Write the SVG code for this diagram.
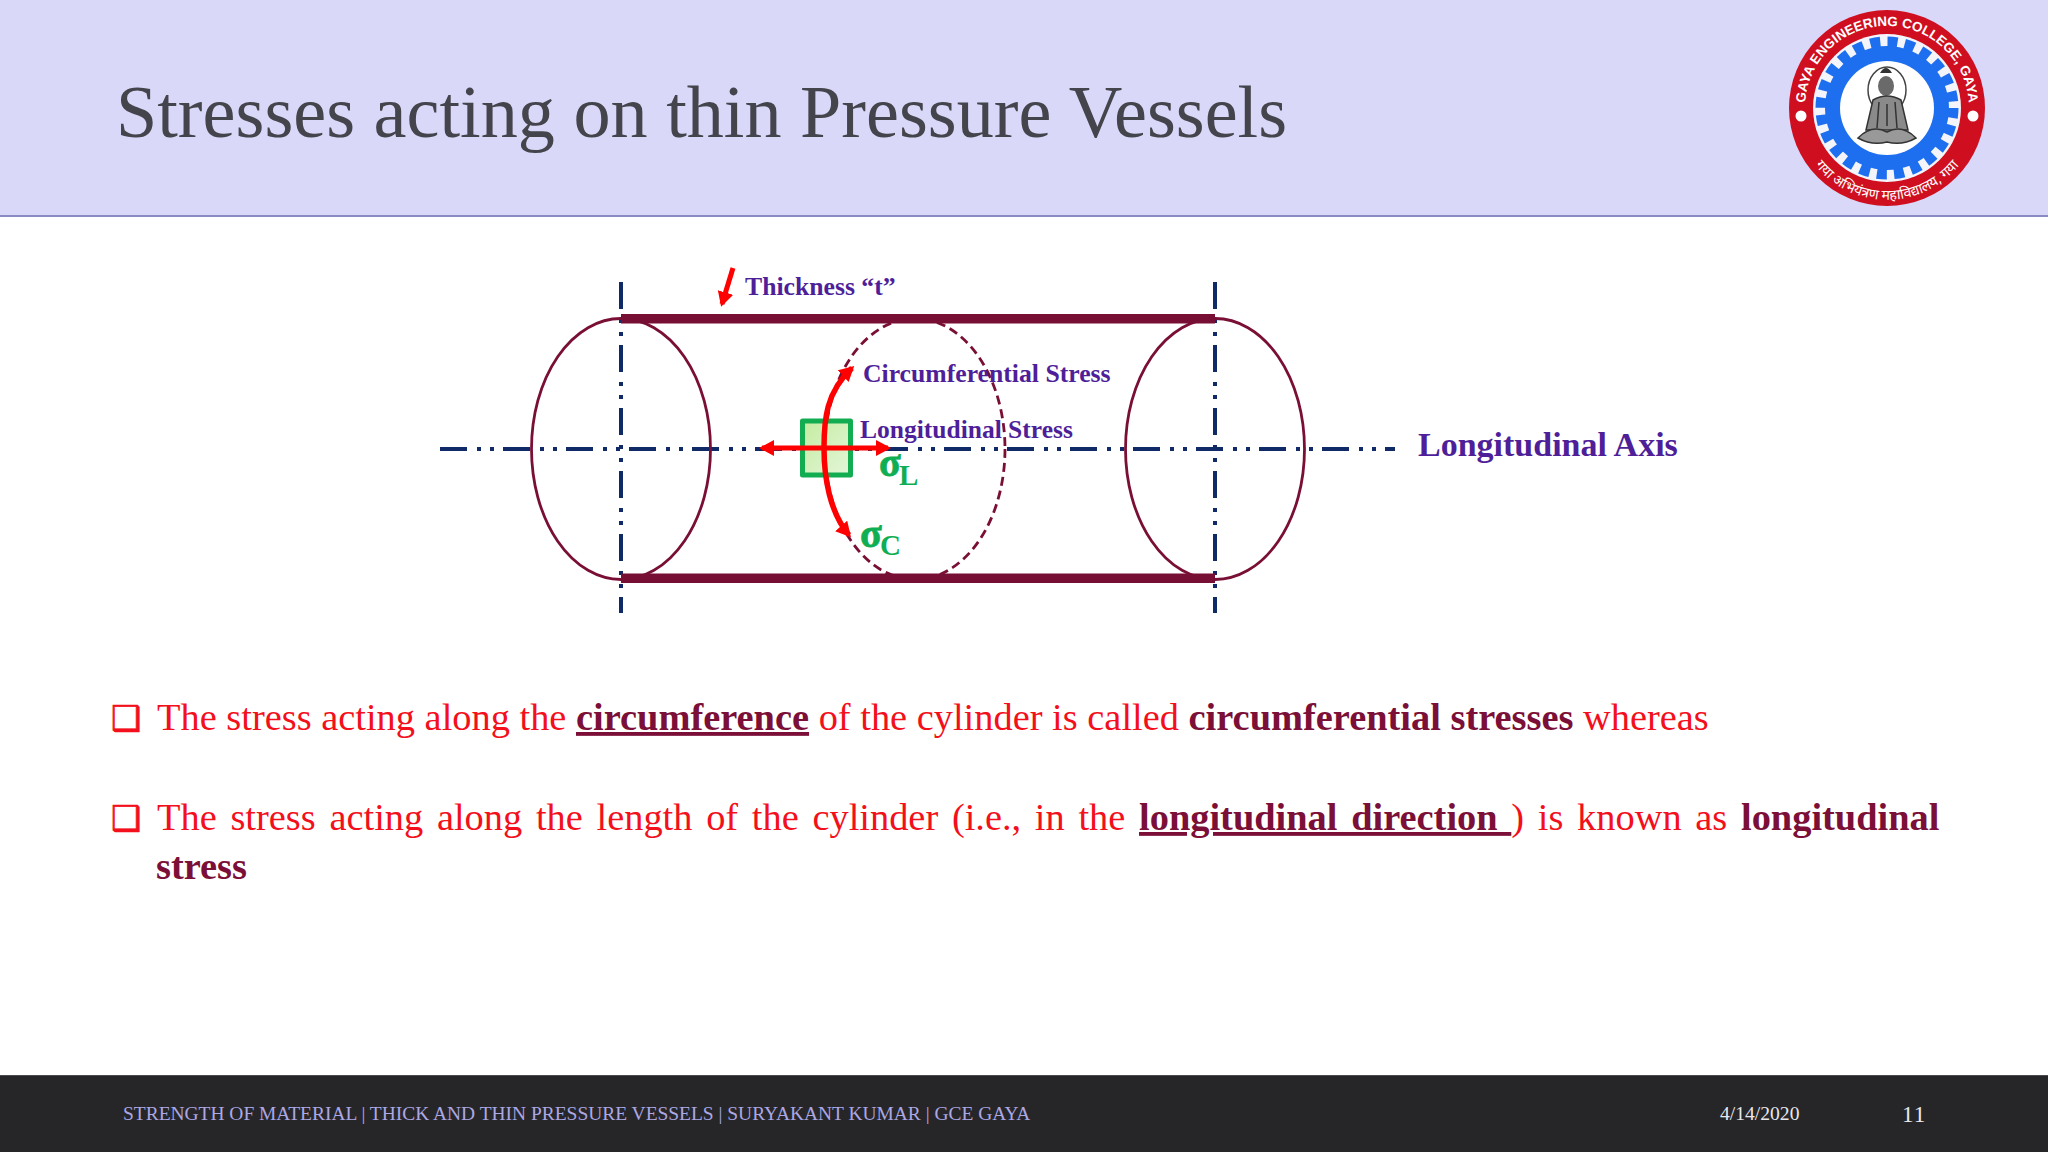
<svg xmlns="http://www.w3.org/2000/svg" xmlns:xlink="http://www.w3.org/1999/xlink" width="2048" height="1152" viewBox="0 0 2048 1152">
<defs>
<style>
text{font-family:"Liberation Serif","Noto Sans CJK SC",serif}
.ax{stroke:#0f2a66;stroke-width:4;fill:none;stroke-dasharray:27 10 4 9 4 9}
.vs{stroke:#7a0f36;stroke-width:2.8;fill:none}
.bar{fill:#760f33}
.pur{fill:#4e1f99;font-weight:bold}
.grn{fill:#0fae52;font-weight:bold}
.sig{font-size:40px;stroke:#0fae52;stroke-width:.8}
.sub{font-size:29px}
.body{font-size:38.400px;fill:#f30f1b}
.b{font-weight:bold;fill:#7b0f37}
.u{text-decoration:underline}
.foot{font-size:19.450px;fill:#aca8e4}
.foot2{font-size:19.600px;fill:#e8e8ee}
.red{stroke:#ff0000;fill:none}
.bul{font-family:"DejaVu Sans",sans-serif;font-size:34px;fill:#f30f1b;stroke:#f30f1b;stroke-width:.7}
</style>
<linearGradient id="gfill" x1="0" y1="0" x2="1" y2="1"><stop offset="0" stop-color="#c4eca0"/><stop offset="1" stop-color="#e4f6da"/></linearGradient>
<marker id="ah" markerWidth="18" markerHeight="18" refX="12" refY="8" orient="auto-start-reverse" markerUnits="userSpaceOnUse"><path d="M0 0L15 8L0 16Z" fill="#ff0000"/></marker>
<path id="arcTop" d="M1806.800 125A82 82 0 1 1 1967.200 125"/>
<path id="arcBot" d="M1796.600 125A92 92 0 0 0 1977.400 125"/>
</defs>
<rect width="2048" height="1152" fill="#ffffff"/>
<g id="header">
<rect width="2048" height="215" fill="#d9d8f9"/>
<rect y="215" width="2048" height="2" fill="#8a8ac4"/>
<text x="116" y="137" font-size="74.200" fill="#44444c">Stresses acting on thin Pressure Vessels</text>
</g>
<g id="logo">
<circle cx="1887" cy="108" r="98" fill="#cf0f1f"/>
<circle cx="1887" cy="108" r="74" fill="#f4f4fb"/>
<circle cx="1887" cy="108" r="62" fill="#1d6fef"/>
<circle cx="1887" cy="108" r="66" fill="none" stroke="#1d6fef" stroke-width="11" stroke-dasharray="10 7.280"/>
<circle cx="1887" cy="108" r="47" fill="#ffffff"/>
<circle cx="1801" cy="116" r="5.500" fill="#fff"/>
<circle cx="1973" cy="116" r="5.500" fill="#fff"/>
<text font-size="13.500" font-weight="bold" fill="#fff" text-anchor="middle" style="font-family:'Liberation Sans',sans-serif"><textPath href="#arcTop" xlink:href="#arcTop" startOffset="50%">GAYA ENGINEERING COLLEGE, GAYA</textPath></text>
<text font-size="14" fill="#fff" text-anchor="middle" style="font-family:'Noto Sans','Liberation Sans',sans-serif"><textPath href="#arcBot" xlink:href="#arcBot" startOffset="50%">गया  अभियंत्रण  महाविद्यालय, गया</textPath></text>
<ellipse cx="1887" cy="90" rx="19" ry="23" fill="#fff" stroke="#444" stroke-width="1.500"/>
<ellipse cx="1886" cy="86" rx="8" ry="10" fill="#6a6a6a"/>
<path d="M1880 73Q1886 63 1892 73Z" fill="#333"/>
<path d="M1873 100Q1887 92 1901 100L1908 130L1866 130Z" fill="#8a8a8a" stroke="#333" stroke-width="1.500"/>
<path d="M1879 102L1877 128M1895 102L1897 128M1887 104V126" stroke="#333" stroke-width="1.500" fill="none"/>
<path d="M1858 138Q1872 124 1887 132Q1902 124 1916 138Q1902 146 1887 142Q1872 146 1858 138Z" fill="#999" stroke="#333" stroke-width="1.500"/>
</g>
<g id="cylinder">
<g id="connectors">
<line class="ax" x1="440" y1="449" x2="1395" y2="449"/>
<line class="ax" x1="621" y1="282" x2="621" y2="613"/>
<line class="ax" x1="1215" y1="282" x2="1215" y2="613"/>
</g>
<ellipse class="vs" cx="621" cy="449" rx="89.500" ry="130.500"/>
<ellipse class="vs" cx="1215" cy="449" rx="89.500" ry="130.500"/>
<ellipse class="vs" cx="915" cy="449" rx="90" ry="130.500" stroke-dasharray="9 5" stroke-width="2.500"/>
<rect class="bar" x="621" y="314" width="594" height="9.500"/>
<rect class="bar" x="621" y="573.500" width="594" height="9.500"/>
</g>
<g id="element">
<rect x="802.500" y="421" width="48" height="54" fill="url(#gfill)" stroke="#12ad50" stroke-width="5" stroke-linejoin="round"/>
</g>
<g id="arrows">
<line class="red" x1="762" y1="448" x2="888" y2="448" stroke-width="5" marker-start="url(#ah)" marker-end="url(#ah)"/>
<path class="red" stroke-width="5.500" marker-end="url(#ah)" d="M824 448C824 420 826 392 852 368"/>
<path class="red" stroke-width="5.500" marker-end="url(#ah)" d="M824 448C824 478 830 513 849 535"/>
<path class="red" stroke-width="5" marker-end="url(#ah)" d="M733 268L722 304"/>
</g>
<g id="labels">
<text class="pur" x="745" y="295" font-size="25.700">Thickness “t”</text>
<text class="pur" x="863" y="382" font-size="25.700">Circumferential Stress</text>
<text class="pur" x="860" y="438" font-size="25.500">Longitudinal Stress</text>
<text class="pur" x="1418" y="456" font-size="34">Longitudinal Axis</text>
<text class="grn sig" x="879" y="476">σ</text><text class="grn sub" x="899" y="485">L</text>
<text class="grn sig" x="860" y="547">σ</text><text class="grn sub" x="880" y="555">C</text>
</g>
<g id="bullets">
<text class="bul" x="111" y="730">❑</text>
<text class="bul" x="111" y="830">❑</text>
</g>
<g id="body">
<text class="body" x="157" y="730">The stress acting along the <tspan class="b u">circumference</tspan> of the cylinder is called <tspan class="b">circumferential stresses</tspan> whereas</text>
<text class="body" x="157" y="830" word-spacing="4.100">The stress acting along the length of the cylinder (i.e., in the <tspan class="b u">longitudinal direction </tspan>) is known as <tspan class="b">longitudinal</tspan></text>
<text class="body b" x="156" y="879">stress</text>
</g>
<g id="footer">
<rect y="1075" width="2048" height="77" fill="#262629"/>
<rect y="1075" width="2048" height="1" fill="#4a4a4e"/>
<text class="foot" x="123" y="1120">STRENGTH OF MATERIAL | THICK AND THIN PRESSURE VESSELS | SURYAKANT KUMAR | GCE GAYA</text>
<text class="foot2" x="1720" y="1120">4/14/2020</text>
<text class="foot2" x="1902" y="1122" style="font-size:23px" letter-spacing="1">11</text>
</g>
</svg>
